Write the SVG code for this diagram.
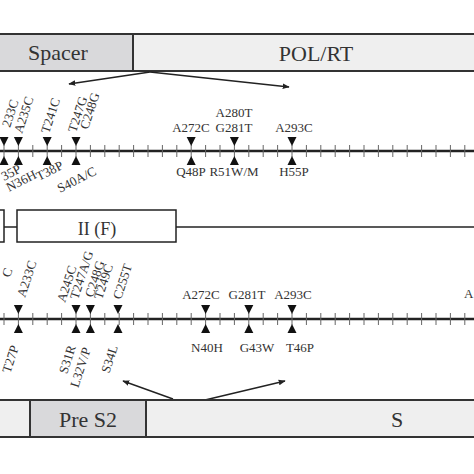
<svg xmlns="http://www.w3.org/2000/svg" xmlns:xlink="http://www.w3.org/1999/xlink" width="474" height="474" viewBox="0 0 474 474">
<style>
.lbl{font-family:"Liberation Serif","Times New Roman",serif;font-size:13px;fill:#333}
.big{font-family:"Liberation Serif","Times New Roman",serif;font-size:22px;fill:#333;text-anchor:middle}
.c{text-anchor:middle}
.e{text-anchor:end}
.axis{stroke:#222;stroke-width:2.5;fill:none}
.tick{stroke:#666;stroke-width:1;fill:none}
.edge{stroke:#333;stroke-width:2;fill:none}
.conn{stroke:#222;stroke-width:1.4;fill:none;marker-end:url(#ah)}
.tri{fill:#111}
</style>
<defs>
<marker id="ah" viewBox="0 0 10 10" refX="9" refY="5" markerWidth="7" markerHeight="7" orient="auto" markerUnits="userSpaceOnUse">
<path d="M0,1 L10,5 L0,9 z" fill="#222"/>
</marker>
<path id="tdn" d="M-4.5,0 h9 l-4.5,9 z"/>
<path id="tup" d="M-4.5,0 h9 l-4.5,-9 z"/>
</defs>
<rect width="474" height="474" fill="#fff"/>

<g id="spacer">
<rect x="-2" y="34" width="135" height="37" fill="#d9d9db"/>
<text class="big" x="58" y="60">Spacer</text>
</g>
<g id="polrt">
<rect x="133" y="34" width="343" height="37" fill="#efefef"/>
<text class="big" x="316" y="61">POL/RT</text>
</g>
<g id="topbar-edges">
<line class="edge" x1="0" y1="34" x2="474" y2="34"/>
<line class="edge" x1="0" y1="71" x2="474" y2="71"/>
<line class="edge" x1="133" y1="34" x2="133" y2="71"/>
</g>

<g id="connectors">
<line class="conn" x1="150" y1="72" x2="69" y2="84"/>
<line class="conn" x1="150" y1="72" x2="289" y2="87"/>
<line class="conn" x1="173" y1="399" x2="123" y2="381"/>
<line class="conn" x1="205" y1="400" x2="285" y2="381"/>
</g>

<g id="pol-axis">
<line class="axis" x1="0" y1="151" x2="474" y2="151"/>
<path class="tick" d="M4,145v12M18.4,145v12M32.8,145v12M47.2,145v12M61.6,145v12M76,145v12M90.4,145v12M104.8,145v12M119.2,145v12M133.6,145v12M148,145v12M162.4,145v12M176.8,145v12M191.2,145v12M205.6,145v12M220,145v12M234.4,145v12M248.8,145v12M263.2,145v12M277.6,145v12M292,145v12M306.4,145v12M320.8,145v12M335.2,145v12M349.6,145v12M364,145v12M378.4,145v12M392.8,145v12M407.2,145v12M421.6,145v12M436,145v12M450.4,145v12M464.8,145v12"/>
<g class="tri">
<use xlink:href="#tdn" x="4" y="137"/><use xlink:href="#tup" x="4" y="165"/>
<use xlink:href="#tdn" x="18.4" y="137"/><use xlink:href="#tup" x="18.4" y="165"/>
<use xlink:href="#tdn" x="47.2" y="137"/><use xlink:href="#tup" x="47.2" y="165"/>
<use xlink:href="#tdn" x="76" y="137"/><use xlink:href="#tup" x="76" y="165"/>
<use xlink:href="#tdn" x="191.2" y="137"/><use xlink:href="#tup" x="191.2" y="165"/>
<use xlink:href="#tdn" x="234.4" y="137"/><use xlink:href="#tup" x="234.4" y="165"/>
<use xlink:href="#tdn" x="292" y="137"/><use xlink:href="#tup" x="292" y="165"/>
</g>
<g class="lbl">
<text transform="translate(10,128) rotate(-72)">233C</text>
<text transform="translate(22,134) rotate(-72)">A235C</text>
<text transform="translate(49,134) rotate(-72)">T241C</text>
<text transform="translate(76,133) rotate(-72)">T247G</text>
<text transform="translate(88,130) rotate(-72)">C248G</text>
<text class="c" x="191" y="132">A272C</text>
<text class="c" x="234" y="117">A280T</text>
<text class="c" x="234" y="132">G281T</text>
<text class="c" x="294" y="132">A293C</text>
<text transform="translate(4,181) rotate(-27)">35P</text>
<text transform="translate(9,192) rotate(-27)">N36H</text>
<text transform="translate(39,181) rotate(-27)">T38P</text>
<text transform="translate(60,193) rotate(-27)">S40A/C</text>
<text class="c" x="191" y="176">Q48P</text>
<text class="c" x="234" y="176">R51W/M</text>
<text class="c" x="294" y="176">H55P</text>
</g>
</g>

<g id="gene-map">
<rect x="-4" y="210" width="8" height="32" fill="#fff" stroke="#222" stroke-width="1.5"/>
<line x1="4" y1="227" x2="17" y2="227" stroke="#222" stroke-width="1.5"/>
<line x1="176" y1="227" x2="474" y2="227" stroke="#222" stroke-width="1.5"/>
</g>
<g id="region-II-F">
<rect x="17" y="210" width="159" height="32" fill="#fff" stroke="#222" stroke-width="1.5"/>
<text x="97" y="235" text-anchor="middle" style="font-family:'Liberation Serif',serif;font-size:18px;fill:#333">II (F)</text>
</g>

<g id="s-axis">
<line class="axis" x1="0" y1="319" x2="474" y2="319"/>
<path class="tick" d="M4,313v12M18.4,313v12M32.8,313v12M47.2,313v12M61.6,313v12M76,313v12M90.4,313v12M104.8,313v12M119.2,313v12M133.6,313v12M148,313v12M162.4,313v12M176.8,313v12M191.2,313v12M205.6,313v12M220,313v12M234.4,313v12M248.8,313v12M263.2,313v12M277.6,313v12M292,313v12M306.4,313v12M320.8,313v12M335.2,313v12M349.6,313v12M364,313v12M378.4,313v12M392.8,313v12M407.2,313v12M421.6,313v12M436,313v12M450.4,313v12M464.8,313v12"/>
<g class="tri">
<use xlink:href="#tdn" x="18.4" y="305"/><use xlink:href="#tup" x="18.4" y="333"/>
<use xlink:href="#tdn" x="76" y="305"/><use xlink:href="#tup" x="76" y="333"/>
<use xlink:href="#tdn" x="90.4" y="305"/><use xlink:href="#tup" x="90.4" y="333"/>
<use xlink:href="#tdn" x="118" y="305"/><use xlink:href="#tup" x="118" y="333"/>
<use xlink:href="#tdn" x="205.6" y="305"/><use xlink:href="#tup" x="205.6" y="333"/>
<use xlink:href="#tdn" x="248.8" y="305"/><use xlink:href="#tup" x="248.8" y="333"/>
<use xlink:href="#tdn" x="292" y="305"/><use xlink:href="#tup" x="292" y="333"/>
</g>
<g class="lbl">
<text transform="translate(10,278) rotate(-72)">C</text>
<text transform="translate(25,298) rotate(-72)">A233C</text>
<text transform="translate(65,303) rotate(-72)">A245C</text>
<text transform="translate(78,300) rotate(-72)">T247A/G</text>
<text transform="translate(93,298) rotate(-72)">C248G</text>
<text transform="translate(102,300) rotate(-72)">T249C</text>
<text transform="translate(121,300) rotate(-72)">C255T</text>
<text class="c" x="201" y="299">A272C</text>
<text class="c" x="247" y="299">G281T</text>
<text class="c" x="293" y="299">A293C</text>
<text x="464" y="298">A</text>
<text class="e" transform="translate(19,347) rotate(-72)">T27P</text>
<text class="e" transform="translate(76,347) rotate(-72)">S31R</text>
<text class="e" transform="translate(91,349) rotate(-72)">L32V/P</text>
<text class="e" transform="translate(118,347) rotate(-72)">S34L</text>
<text class="c" x="207" y="352">N40H</text>
<text class="c" x="257" y="352">G43W</text>
<text class="c" x="300" y="352">T46P</text>
</g>
</g>

<g id="pre-s1">
<rect x="-2" y="400" width="32" height="37" fill="#efefef"/>
</g>
<g id="pre-s2">
<rect x="30" y="400" width="116" height="37" fill="#d9d9db"/>
<text class="big" x="88" y="427">Pre S2</text>
</g>
<g id="s">
<rect x="146" y="400" width="330" height="37" fill="#efefef"/>
<text class="big" x="397" y="427">S</text>
</g>
<g id="bottombar-edges">
<line class="edge" x1="0" y1="400" x2="474" y2="400"/>
<line class="edge" x1="0" y1="437" x2="474" y2="437"/>
<line class="edge" x1="30" y1="400" x2="30" y2="437"/>
<line class="edge" x1="146" y1="400" x2="146" y2="437"/>
</g>
</svg>
